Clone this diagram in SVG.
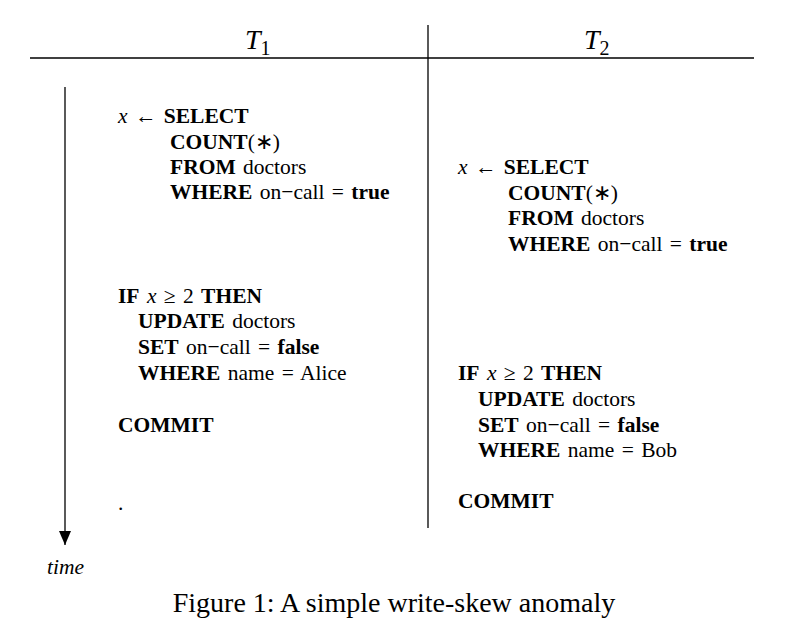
<svg xmlns="http://www.w3.org/2000/svg" width="800" height="638" viewBox="0 0 800 638">
<style>
text{font-family:"Liberation Serif","Times New Roman",serif;font-size:21.5px;fill:#000;word-spacing:2px}
.b{font-weight:bold}
.i{font-style:italic}
line{stroke:#000;stroke-width:1.3}
</style>
<defs><marker id="ah" markerWidth="14" markerHeight="12" refX="14" refY="6" orient="auto" markerUnits="userSpaceOnUse"><path d="M0,0 L14,6 L0,12 Z" fill="#000"/></marker></defs>
<rect width="800" height="638" fill="#fff"/>
<g id="connectors">
<line x1="30" y1="58" x2="754" y2="58"/>
<line x1="428" y1="25" x2="428" y2="528"/>
<line x1="65" y1="87" x2="65" y2="545" marker-end="url(#ah)"/>
</g>
<g id="headers">
<text x="245" y="49" class="i" style="font-size:28px">T<tspan dy="6" style="font-style:normal;font-size:20px">1</tspan></text>
<text x="584" y="49" class="i" style="font-size:28px">T<tspan dy="6" style="font-style:normal;font-size:20px">2</tspan></text>
</g>
<g id="t1">
<text x="118" y="123"><tspan class="i">x</tspan> ← <tspan class="b">SELECT</tspan></text>
<text x="170" y="149"><tspan class="b">COUNT</tspan>(∗)</text>
<text x="170" y="174"><tspan class="b">FROM</tspan> doctors</text>
<text x="170" y="199"><tspan class="b">WHERE</tspan> on−call = <tspan class="b">true</tspan></text>
<text x="118" y="303"><tspan class="b">IF</tspan> <tspan class="i">x</tspan> ≥ 2 <tspan class="b">THEN</tspan></text>
<text x="138" y="328"><tspan class="b">UPDATE</tspan> doctors</text>
<text x="138" y="354"><tspan class="b">SET</tspan> on−call = <tspan class="b">false</tspan></text>
<text x="138" y="380"><tspan class="b">WHERE</tspan> name = Alice</text>
<text x="118" y="432" class="b">COMMIT</text>
<text x="118" y="510">.</text>
</g>
<g id="t2">
<text x="458" y="174"><tspan class="i">x</tspan> ← <tspan class="b">SELECT</tspan></text>
<text x="508" y="200"><tspan class="b">COUNT</tspan>(∗)</text>
<text x="508" y="225"><tspan class="b">FROM</tspan> doctors</text>
<text x="508" y="251"><tspan class="b">WHERE</tspan> on−call = <tspan class="b">true</tspan></text>
<text x="458" y="380"><tspan class="b">IF</tspan> <tspan class="i">x</tspan> ≥ 2 <tspan class="b">THEN</tspan></text>
<text x="478" y="406"><tspan class="b">UPDATE</tspan> doctors</text>
<text x="478" y="432"><tspan class="b">SET</tspan> on−call = <tspan class="b">false</tspan></text>
<text x="478" y="457"><tspan class="b">WHERE</tspan> name = Bob</text>
<text x="458" y="508" class="b">COMMIT</text>
</g>
<text x="47" y="574" class="i">time</text>
<text x="394" y="612" text-anchor="middle" style="font-size:28px;word-spacing:0">Figure 1: A simple write-skew anomaly</text>
</svg>
